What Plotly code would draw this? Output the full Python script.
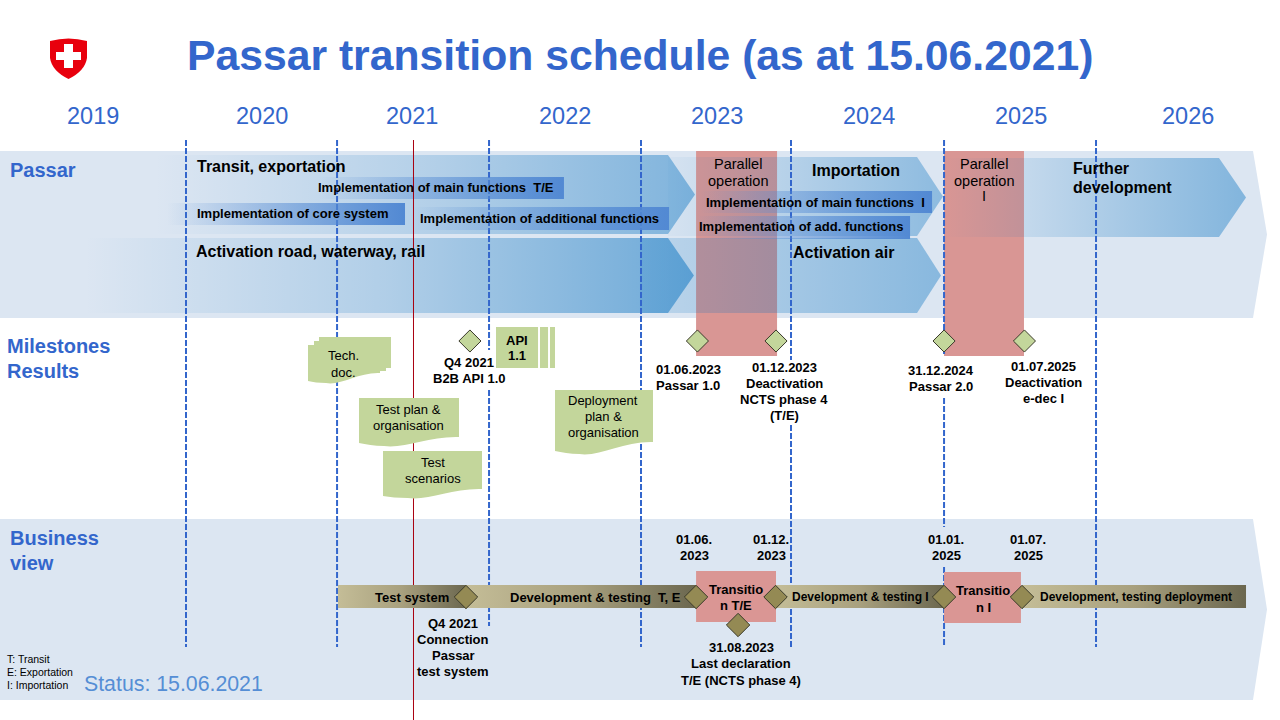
import plotly.graph_objects as go

#######################################################################################################################
# Data #
#######################################################################################################################
# x values are decimal years on the slide's time scale, y values are the rows of the slide

year_labels = ["2019", "2020", "2021", "2022", "2023", "2024", "2025", "2026"]
year_lines = [2020, 2020.996, 2021.998, 2023, 2023.989, 2024.998, 2026]
today = 2021.4999

# start, shoulder, tip
transit_arrow = [2019.796, 2023.178, 2023.356]
road_arrow = [2019.334, 2023.178, 2023.349]
import_arrow = [2023.178, 2024.820, 2024.991]
air_arrow = [2022.993, 2024.820, 2024.978]
further_arrow = [2024.991, 2026.811, 2026.989]

impl_starts = [2020.870, 2019.875, 2021.477, 2023.389, 2023.369]
impl_ends = [2022.492, 2021.444, 2023.185, 2024.919, 2024.774]

parallel_starts = [2023.363, 2024.998]
parallel_ends = [2023.897, 2025.525]
transition_starts = [2023.363, 2024.998]
transition_ends = [2023.890, 2025.505]

bar_starts = [2021.002, 2021.846, 2023.890, 2025.512]
bar_ends = [2021.846, 2023.363, 2024.998, 2026.989]

milestone_dates = [2021.872, 2023.372, 2023.890, 2024.998, 2025.528]
business_dates = [2021.846, 2023.363, 2023.887, 2024.998, 2025.512]
last_declaration = 2023.640

api_starts = [2022.044, 2022.334, 2022.400]
api_ends = [2022.321, 2022.387, 2022.433]

BLUE = "#3366CC"
BAND = "#DCE6F2"
FONT = "Liberation Sans"
YEAR_PX = 151.67


def yr(px):
    return 2020 + (px - 186) / YEAR_PX


def arrow_blue(alpha):
    return f"rgba(0,110,190,{alpha})"


#######################################################################################################################
# Create Figure #
#######################################################################################################################
fig = go.Figure()


def polygon(xs, ys, color=None, c0=None, c1=None, mid=None):
    trace = dict(x=xs, y=ys, mode="lines", fill="toself", line=dict(width=0), hoverinfo="skip", showlegend=False)
    if color:
        trace["fillcolor"] = color
    else:
        scale = [[0, c0], [0.5, mid], [1, c1]] if mid else [[0, c0], [1, c1]]
        trace["fillgradient"] = dict(type="horizontal", colorscale=scale)
    fig.add_trace(go.Scatter(**trace))


def arrow(span, top, bottom, a0, a1, amid=None):
    mid = (top + bottom) / 2
    polygon([span[0], span[1], span[2], span[1], span[0], span[0]], [top, top, mid, bottom, bottom, top],
            c0=arrow_blue(a0), c1=arrow_blue(a1), mid=arrow_blue(amid) if amid else None)


def box(x0, x1, y0, y1, color=None, c0=None, c1=None, mid=None):
    polygon([x0, x1, x1, x0, x0], [y0, y0, y1, y1, y0], color, c0, c1, mid)


def dashes(x, segments):
    xs, ys = [], []
    for y0, y1 in segments:
        xs += [x, x, None]
        ys += [y0, y1, None]
    fig.add_trace(go.Scatter(x=xs, y=ys, mode="lines", hoverinfo="skip", showlegend=False,
                             line=dict(color=BLUE, width=2, dash="6px,2px")))


# Background bands
for top, bottom in [(151, 318), (519, 700)]:
    polygon([yr(0), yr(1253), yr(1267), yr(1253), yr(0), yr(0)],
            [top, top, (top + bottom) / 2, bottom, bottom, top], color=BAND)

# Parallel operation sits under the see-through arrows
for start, end in zip(parallel_starts, parallel_ends):
    box(start, end, 151, 356, color="#D99694")

# Phase arrows
arrow(air_arrow, 238, 313, 0.14, 0.38)
arrow(import_arrow, 157, 236, 0.03, 0.36)
arrow(further_arrow, 158, 237, 0, 0.41)
arrow(transit_arrow, 155, 234, 0, 0.42, 0.18)
arrow(road_arrow, 238, 313, 0, 0.5, 0.2)

# Year separators, with the gaps left by the text boxes
dash_segments = [
    [(140, 647)],
    [(140, 647)],
    [(140, 350), (390, 626)],
    [(140, 390), (444, 647)],
    [(140, 360), (425, 647)],
    [(140, 356), (398, 527), (567, 647)],
    [(140, 647)],
]
for year, segments in zip(year_lines, dash_segments):
    dashes(year, segments)

# Implementation boxes
impl_rows = [(177, 199), (203, 225), (207, 230), (191, 213), (216, 239)]
for start, end, row in zip(impl_starts, impl_ends, impl_rows):
    box(start, end, row[0], row[1], c0="rgba(82,137,211,0)", c1="#5289D3")

# Status line
fig.add_trace(go.Scatter(x=[today, today], y=[140, 720], mode="lines", hoverinfo="skip", showlegend=False,
                         line=dict(color="#A80010", width=1)))

# API documents
for start, end in zip(api_starts, api_ends):
    box(start, end, 327, 368, color="#C3D69B")

# Business view
for start, end in zip(bar_starts, bar_ends):
    box(start, end, 585, 608, c0="#C4BD97", mid="#A8A07E", c1="#6B674F")
for start, end, top in zip(transition_starts, transition_ends, [571, 572]):
    box(start, end, top, top + 51, color="#DA9694")

# Milestones
fig.add_trace(go.Scatter(x=milestone_dates, y=[341] * len(milestone_dates), mode="markers", hoverinfo="skip",
                         showlegend=False,
                         marker=dict(symbol="diamond", size=17, color="#C3D69B", line=dict(color="#3A3A2A", width=1))))
fig.add_trace(go.Scatter(x=business_dates + [last_declaration], y=[597] * len(business_dates) + [625],
                         mode="markers", hoverinfo="skip", showlegend=False,
                         marker=dict(symbol="diamond", size=18, color="#948A54", line=dict(color="#3A3A2A", width=1))))


def doc_path(x0, x1, top, left_bottom, right_bottom, dip):
    w = x1 - x0
    return (f"M {yr(x0)} {top} L {yr(x1)} {top} L {yr(x1)} {right_bottom} "
            f"C {yr(x1 - w * 0.3)} {right_bottom - 1} {yr(x0 + w * 0.45)} {dip + 3} {yr(x0 + w * 0.25)} {dip} "
            f"C {yr(x0 + w * 0.15)} {dip} {yr(x0 + w * 0.07)} {left_bottom + 1} {yr(x0)} {left_bottom} Z")


shapes = []
docs = [
    (319, 391, 337, 368, 368, 370),
    (314, 386, 341, 373, 371, 375),
    (308, 380, 345, 381, 373, 383),
    (359, 459, 398, 443, 437, 446),
    (383, 482, 451, 496, 489, 498),
    (555, 653, 390, 451, 442, 454),
]
for d in docs:
    shapes.append(dict(type="path", path=doc_path(*d), xref="x", yref="y", fillcolor="#C3D69B",
                       line=dict(width=0), layer="above"))

# Swiss shield
shapes.append(dict(type="path", xref="x", yref="y", fillcolor="#E8000D", line=dict(width=0), layer="above",
                   path=f"M {yr(50)} 41 Q {yr(68.5)} 36 {yr(87)} 41 L {yr(87)} 58 "
                        f"Q {yr(85)} 71 {yr(68.5)} 79 Q {yr(52)} 71 {yr(50)} 58 Z"))
for x0, x1, y0, y1 in [(64, 73, 44, 68), (56, 81, 52, 60)]:
    shapes.append(dict(type="rect", xref="x", yref="y", x0=yr(x0), x1=yr(x1), y0=y0, y1=y1,
                       fillcolor="white", line=dict(width=0), layer="above"))


#######################################################################################################################
# Text #
#######################################################################################################################
annotations = []


def text(px, y, label, size=13, bold=True, color="black", anchor="center"):
    if anchor == "left":
        px -= 1
    annotations.append(dict(x=yr(px), y=y, xref="x", yref="y", text=f"<b>{label}</b>" if bold else label,
                            showarrow=False, xanchor=anchor, yanchor="middle", borderpad=0,
                            font=dict(family=FONT, size=size, color=color)))


def lines(px, ys, labels, **kwargs):
    for y, label in zip(ys, labels):
        text(px, y, label, **kwargs)


text(640, 55, "Passar transition schedule (as at 15.06.2021)", size=42.7, color=BLUE)
for px, label in zip([93, 262, 412, 565, 717, 869, 1021, 1188], year_labels):
    text(px, 116, label, size=23.5, bold=False, color=BLUE)

text(10, 170, "Passar", size=20, color=BLUE, anchor="left")
lines(7, [346, 371], ["Milestones", "Results"], size=20, color=BLUE, anchor="left")
lines(10, [538, 563], ["Business", "view"], size=20, color=BLUE, anchor="left")

# Passar band
text(197, 166, "Transit, exportation", size=16, anchor="left")
text(318, 187, "Implementation of main functions&nbsp; T/E", size=13, anchor="left")
text(197, 213, "Implementation of core system", size=13, anchor="left")
text(420, 218, "Implementation of additional functions", size=13, anchor="left")
text(196, 251, "Activation road, waterway, rail", size=16, anchor="left")
lines(738, [164, 181], ["Parallel", "operation"], size=14.5, bold=False)
text(856, 170, "Importation", size=16)
text(706, 202, "Implementation of main functions&nbsp; I", size=13, anchor="left")
text(699, 226, "Implementation of add. functions", size=13, anchor="left")
text(793, 252, "Activation air", size=16, anchor="left")
lines(984, [164, 181, 196], ["Parallel", "operation", "I"], size=14.5, bold=False)
lines(1073, [168, 187], ["Further", "development"], size=16, anchor="left")

# Milestones / results
lines(343, [355, 372], ["Tech.", "doc."], bold=False)
lines(408, [409, 425], ["Test plan &amp;", "organisation"], bold=False)
lines(433, [462, 478], ["Test", "scenarios"], bold=False)
lines(603, [400, 416, 432], ["Deployment", "plan &amp;", "organisation"], bold=False)
lines(517, [340, 355], ["API", "1.1"])
lines(469, [362, 378], ["Q4 2021", "B2B API 1.0"])
lines(688, [369, 385], ["01.06.2023", "Passar 1.0"])
lines(784, [367, 383, 399, 415], ["01.12.2023", "Deactivation", "NCTS phase 4", "(T/E)"])
lines(941, [370, 386], ["31.12.2024", "Passar 2.0"])
lines(1043, [366, 382, 398], ["01.07.2025", "Deactivation", "e-dec I"])

# Business view
text(412, 597, "Test system")
text(510, 597, "Development &amp; testing&nbsp; T, E", anchor="left")
lines(736, [589, 605], ["Transitio", "n T/E"])
text(792, 597, "Development &amp; testing I", size=12, anchor="left")
lines(983, [590, 607], ["Transitio", "n I"])
text(1040, 597, "Development, testing deployment", size=12, anchor="left")
for px, pair in zip([694, 771, 946, 1028], [("01.06.", "2023"), ("01.12.", "2023"), ("01.01.", "2025"), ("01.07.", "2025")]):
    lines(px, [539, 555], pair)
lines(741, [647, 663, 680], ["31.08.2023", "Last declaration", "T/E (NCTS phase 4)"])
lines(453, [623, 639, 655, 671], ["Q4 2021", "Connection", "Passar", "test system"])
lines(7, [659, 672, 685], ["T: Transit", "E: Exportation", "I: Importation"], size=10.5, bold=False, anchor="left")
text(84, 684, "Status: 15.06.2021", size=21.3, bold=False, color="#558ED5", anchor="left")

fig.update_layout(
    width=1280,
    height=720,
    margin=dict(l=0, r=0, t=0, b=0),
    paper_bgcolor="white",
    plot_bgcolor="white",
    showlegend=False,
    xaxis=dict(range=[yr(0), yr(1280)], visible=False, fixedrange=True),
    yaxis=dict(range=[720, 0], visible=False, fixedrange=True),
    shapes=shapes,
    annotations=annotations,
)

fig.write_html("out.html", config={"displayModeBar": False}, post_script="document.body.style.margin='0';")
